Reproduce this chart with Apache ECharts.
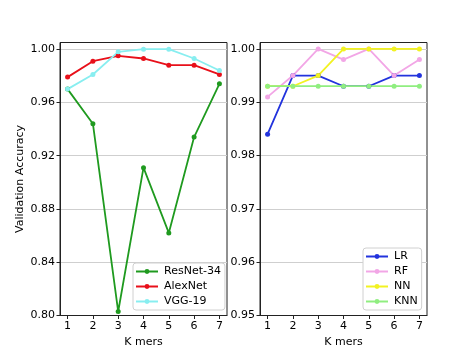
<!DOCTYPE html>
<html><head><meta charset="utf-8">
<script src="https://cdn.jsdelivr.net/npm/echarts@6/dist/echarts.min.js"></script>
<style>html,body{margin:0;padding:0;background:#fff}#c{width:474px;height:355px}</style>
</head><body><div id="c"></div>
<script>
const kmers = [1,2,3,4,5,6,7];
const resnet34 = [0.970,0.944,0.803,0.911,0.862,0.934,0.974];
const alexnet  = [0.979,0.991,0.995,0.993,0.988,0.988,0.981];
const vgg19    = [0.970,0.981,0.998,1.000,1.000,0.993,0.984];
const lr  = [0.984,0.995,0.995,0.993,0.993,0.995,0.995];
const rf  = [0.991,0.995,1.000,0.998,1.000,0.995,0.998];
const nn  = [0.993,0.993,0.995,1.000,1.000,1.000,1.000];
const knn = [0.993,0.993,0.993,0.993,0.993,0.993,0.993];
const leftTicks = [0.80,0.84,0.88,0.92,0.96,1.00];
const rightTicks = [0.95,0.96,0.97,0.98,0.99,1.00];

const font = 'DejaVu Sans';
function pairs(v){ return kmers.map((k,i)=>[k,v[i]]); }
function xAx(gi){
  return {type:'value', gridIndex:gi, min:0.7, max:7.3, name:'K mers', nameLocation:'middle', nameGap:20,
    nameTextStyle:{fontFamily:font,fontSize:11,color:'#000'},
    axisLine:{show:true,lineStyle:{color:'#222',width:1}},
    axisTick:{show:true,length:3.5,customValues:kmers,lineStyle:{color:'#222'}},
    axisLabel:{customValues:kmers,fontFamily:font,fontSize:11,color:'#000',margin:5},
    splitLine:{show:false}};
}
function yAx(gi,min,max,iv,ticks,name){
  return {type:'value', gridIndex:gi, min:min, max:max, interval:iv,
    name:name||'', nameLocation:'middle', nameGap:34,
    nameTextStyle:{fontFamily:font,fontSize:11,color:'#000'},
    axisLine:{show:true,lineStyle:{color:'#222',width:1}},
    axisTick:{show:true,length:3.5,customValues:ticks,lineStyle:{color:'#222'}},
    axisLabel:{customValues:ticks,fontFamily:font,fontSize:11,color:'#000',margin:5,
      formatter:v=>v.toFixed(2)},
    splitLine:{show:true,lineStyle:{color:'#cfcfcf',width:1}}};
}
function ser(name,data,color,xi,yi){
  return {name:name,type:'line',xAxisIndex:xi,yAxisIndex:yi,data:pairs(data),
    symbol:'circle',symbolSize:5,showSymbol:true,
    lineStyle:{color:color,width:1.8},itemStyle:{color:color},emphasis:{disabled:true}};
}
const legendBase = {orient:'vertical',backgroundColor:'#fff',borderColor:'#d0d0d0',borderWidth:1,borderRadius:3,
  padding:[3,4,3,2],itemWidth:22,itemHeight:6,itemGap:4,
  itemStyle:{borderWidth:0},
  textStyle:{fontFamily:font,fontSize:11,color:'#000',padding:[0,0,0,1]}};
const chart = echarts.init(document.getElementById('c'),null,{renderer:'canvas'});
chart.setOption({
  animation:false,
  backgroundColor:'#fff',
  grid:[
    {left:60,top:42.5,width:167,height:273,show:true,borderColor:'#222',borderWidth:1,backgroundColor:'transparent'},
    {left:260,top:42.5,width:167,height:273,show:true,borderColor:'#222',borderWidth:1,backgroundColor:'transparent'}
  ],
  xAxis:[xAx(0),xAx(1)],
  yAxis:[yAx(0,0.8,1.005,0.04,leftTicks,'Validation Accuracy'),yAx(1,0.95,1.0012,0.01,rightTicks,'')],
  legend:[
    Object.assign({},legendBase,{left:133,top:263,data:['ResNet-34','AlexNet','VGG-19']}),
    Object.assign({},legendBase,{left:363,top:248,data:['LR','RF','NN','KNN']})
  ],
  series:[
    ser('ResNet-34',resnet34,'#1f9a1f',0,0),
    ser('AlexNet',alexnet,'#e8101a',0,0),
    ser('VGG-19',vgg19,'#88eef0',0,0),
    ser('LR',lr,'#2233dd',1,1),
    ser('RF',rf,'#f2a6e6',1,1),
    ser('NN',nn,'#f2f222',1,1),
    ser('KNN',knn,'#90ee80',1,1)
  ]
});
</script></body></html>
